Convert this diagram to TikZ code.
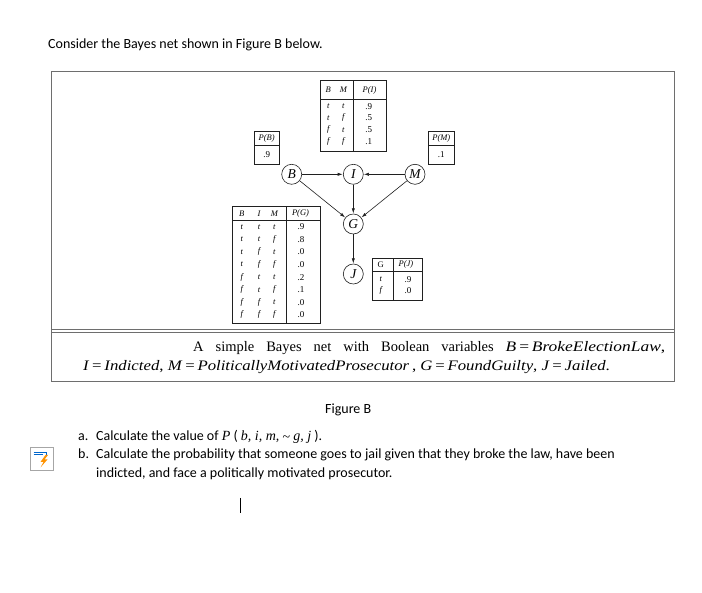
\documentclass[tikz,border=0pt]{standalone}
\usepackage{fontspec}
\usepackage{graphicx}
\setmainfont{Carlito}
\newfontfamily\tms{Liberation Serif}
\usetikzlibrary{arrows.meta}
\definecolor{framegray}{HTML}{6E6E6E}
\definecolor{linegray}{HTML}{202020}
\tikzset{
  bn/.style={circle,draw=linegray,line width=0.6pt,minimum size=20pt,inner sep=0pt,font=\tms\itshape\fontsize{13.5}{13.5}\selectfont},
  edge/.style={draw=linegray,line width=0.6pt,-{Latex[length=5pt,width=3.2pt]},shorten >=0.3pt},
  tbl/.style={draw=linegray,line width=0.5pt},
  tdiv/.style={draw=linegray,line width=0.9pt},
  tt/.style={inner sep=0pt,font=\tms\itshape\fontsize{8.5}{8.5}\selectfont},
  tv/.style={inner sep=0pt,font=\tms\fontsize{9}{9}\selectfont},
  body/.style={inner sep=0pt,anchor=base west,font=\fontsize{14}{16}\selectfont},
  captext/.style={inner sep=0pt,anchor=base west,font=\tms\fontsize{14.5}{17}\selectfont},
}
\begin{document}
\begin{tikzpicture}[x=1pt,y=-1pt]
\fill[white] (0,0) rectangle (702,593);
\useasboundingbox (0,0) rectangle (702,593);

% intro text
\node[body] (intro) at (48,49) {Consider the Bayes net shown in Figure B below.};

% frame
\draw[framegray,line width=1pt] (51.7,71.7) rectangle (674.3,381.7);
\draw[framegray,line width=0.8pt] (51.7,329.3) -- (674.3,329.3);
\draw[framegray,line width=0.8pt] (51.7,332) -- (674.3,332);

% network nodes
\node[bn] (B) at (291.7,174.3) {B};
\node[bn] (I) at (353.3,174.3) {I};
\node[bn] (M) at (415,174.3) {M};
\node[bn] (G) at (353.3,224) {G};
\node[bn] (J) at (353.3,274) {J};
\draw[edge] (B) -- (I);
\draw[edge] (M) -- (I);
\draw[edge] (B) -- (G);
\draw[edge] (M) -- (G);
\draw[edge] (I) -- (G);
\draw[edge] (G) -- (J);

% P(B)
\draw[tbl] (254,131.7) rectangle (279.3,164);
\draw[tbl] (254,145) -- (279.3,145);
\node[tt] (pbh) at (266.7,138.5) {P(B)};
\node[tv] (pbv) at (266.7,154.5) {.9};

% P(M)
\draw[tbl] (428.3,131.7) rectangle (454.3,164);
\draw[tbl] (428.3,145) -- (454.3,145);
\node[tt] (pmh) at (441.3,138.5) {P(M)};
\node[tv] (pmv) at (441.3,154.5) {.1};

% P(I)
\draw[tbl] (320.7,80.7) rectangle (386,151.7);
\draw[tdiv] (353.3,80.7) -- (353.3,151.7);
\draw[tbl] (320.7,99.3) -- (386,99.3);
\node[tt] (pih1) at (328.3,90) {B};
\node[tt] (pih2) at (343.3,90) {M};
\node[tt] (pih3) at (369.5,90) {P(I)};
\foreach \a/\b/\v [count=\k] in {t/t/.9,t/f/.5,f/t/.5,f/f/.1}{
  \node[tt] (pia\k) at (328.3,94.3+11.8*\k) {\a};
  \node[tt] (pib\k) at (343.3,94.3+11.8*\k) {\b};
  \node[tv] (piv\k) at (368.7,94.3+11.8*\k) {\v};
}

% P(G)
\draw[tbl] (232.3,206.7) rectangle (320,323.3);
\draw[tdiv] (286.7,206.7) -- (286.7,323.3);
\draw[tbl] (232.3,220) -- (320,220);
\node[tt] (pgh1) at (241.7,213.3) {B};
\node[tt] (pgh2) at (259,213.3) {I};
\node[tt] (pgh3) at (274.3,213.3) {M};
\node[tt] (pgh4) at (300.5,213.3) {P(G)};
\foreach \a/\b/\c/\v [count=\k] in {t/t/t/.9,t/t/f/.8,t/f/t/.0,t/f/f/.0,f/t/t/.2,f/t/f/.1,f/f/t/.0,f/f/f/.0}{
  \node[tt] (pga\k) at (241.7,214.1+12.6*\k) {\a};
  \node[tt] (pgb\k) at (259,214.1+12.6*\k) {\b};
  \node[tt] (pgc\k) at (274.3,214.1+12.6*\k) {\c};
  \node[tv] (pgv\k) at (301,214.1+12.6*\k) {\v};
}

% P(J)
\draw[tbl] (372.3,258.7) rectangle (422.7,300);
\draw[tbl] (393.3,258.7) -- (393.3,300);
\draw[tbl] (372.3,271) -- (422.7,271);
\node[tt,font=\tms\fontsize{8.5}{8.5}\selectfont] (pjh1) at (380.7,264.5) {G};
\node[tt] (pjh2) at (406,264.5) {P(J)};
\node[tt] (pja1) at (380.7,279.3) {t};
\node[tt] (pja2) at (380.7,290.7) {f};
\node[tv] (pjv1) at (408,279.3) {.9};
\node[tv] (pjv2) at (408,290.7) {.0};

% caption
\node[captext] (cap1) at (193,352) {\hbox to 472pt{A simple Bayes net with Boolean variables \scalebox{1.2}[1]{\textit{B}\,=\,\textit{BrokeElectionLaw},}}};
\node[captext] (cap2) at (83,371) {\scalebox{1.156}[1]{\textit{I}\,=\,\textit{Indicted}, \textit{M}\,=\,\textit{PoliticallyMotivatedProsecutor}\,, \textit{G}\,=\,\textit{FoundGuilty}, \textit{J}\,=\,\textit{Jailed}.}};

% text below
\node[body] (fig) at (325,414) {Figure B};
\node[body] (la) at (78,441) {a.};
\node[body] (ta) at (96,441) {Calculate the value of {\tms\itshape P} ( {\tms\itshape b, i, m,} {\tms\raisebox{-1pt}{\textasciitilde}} {\tms\itshape g, j} ).};
\node[body] (lb) at (78,459) {b.};
\node[body] (tb) at (96,459) {Calculate the probability that someone goes to jail given that they broke the law, have been};
\node[body] (tc) at (96,478) {indicted, and face a politically motivated prosecutor.};

% cursor
\draw[black,line width=0.8pt] (240,498) -- (240,513);

% icon
\draw[gray!70,line width=0.8pt,fill=white] (30,447.5) rectangle (53,470);
\draw[blue!50!cyan!80!black,line width=0.9pt] (33.5,452.5) -- (46,452.5) -- (46,456);
\draw[blue!50!cyan!80!black,line width=0.9pt] (33.5,454.5) -- (43,454.5);
\fill[orange!85!yellow] (45.5,455) -- (40.5,462) -- (43.5,462) -- (40.5,467.5) -- (47.5,459.5) -- (44.5,459.5) -- (48,455) -- cycle;
\end{tikzpicture}
\end{document}
